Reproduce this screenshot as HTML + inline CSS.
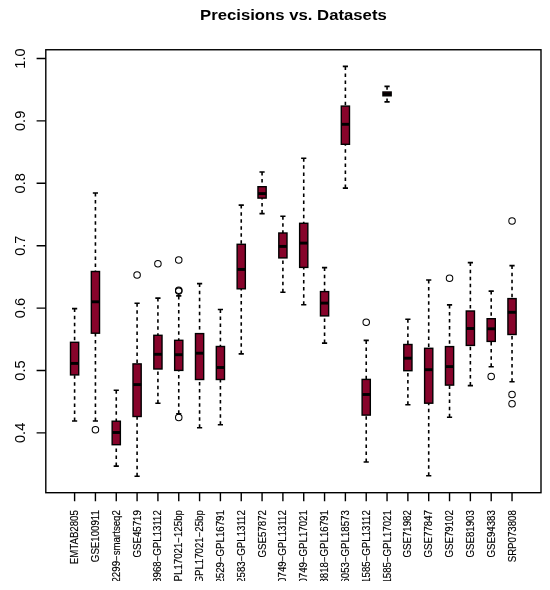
<!DOCTYPE html>
<html><head><meta charset="utf-8"><title>Precisions vs. Datasets</title>
<style>
html,body{margin:0;padding:0;background:#fff;width:550px;height:590px;overflow:hidden}
svg{display:block;font-family:"Liberation Sans",Arial,sans-serif;fill:#000}
.w{stroke:#000;stroke-width:1.6;stroke-dasharray:3.5 3.55;fill:none}
.s{stroke:#000;stroke-width:1.6;fill:none}
.b{fill:#87042B;stroke:#000;stroke-width:1.4}
.m{stroke:#000;stroke-width:2.9;fill:none}
.o{fill:none;stroke:#000;stroke-width:1.05}
.xl{stroke:#000;stroke-width:0.15}
.fr{fill:none;stroke:#000;stroke-width:1.4}
.t{fill:none;stroke:#000;stroke-width:1.4}
</style></head>
<body>
<svg width="550" height="590" viewBox="0 0 550 590">
<defs><clipPath id="cl"><rect x="0" y="0" width="550" height="581"/></clipPath></defs>
<text transform="translate(293.4 19.8) scale(1.1 1)" text-anchor="middle" font-weight="bold" font-size="15.2">Precisions vs. Datasets</text>
<g><path d="M74.6 308.6V342.3M74.6 421V374.9" class="w"/><path d="M72 308.6H77.2M72 421H77.2" class="s"/><rect x="70.5" y="342.3" width="8.2" height="32.6" class="b"/><path d="M70.5 363.4H78.7" class="m"/><path d="M95.43 193V271.5M95.43 421V333.2" class="w"/><path d="M92.83 193H98.03M92.83 421H98.03" class="s"/><rect x="91.33" y="271.5" width="8.2" height="61.7" class="b"/><path d="M91.33 301.8H99.53" class="m"/><circle cx="95.43" cy="429.8" r="3.25" class="o"/><path d="M116.26 390.2V421.2M116.26 466.1V444.7" class="w"/><path d="M113.66 390.2H118.86M113.66 466.1H118.86" class="s"/><rect x="112.16" y="421.2" width="8.2" height="23.5" class="b"/><path d="M112.16 432.5H120.36" class="m"/><path d="M137.09 303.2V363.9M137.09 476.2V416.5" class="w"/><path d="M134.49 303.2H139.69M134.49 476.2H139.69" class="s"/><rect x="132.99" y="363.9" width="8.2" height="52.6" class="b"/><path d="M132.99 384.6H141.19" class="m"/><circle cx="137.09" cy="274.9" r="3.25" class="o"/><path d="M157.92 298.1V335.3M157.92 403.3V369" class="w"/><path d="M155.32 298.1H160.52M155.32 403.3H160.52" class="s"/><rect x="153.82" y="335.3" width="8.2" height="33.7" class="b"/><path d="M153.82 354.3H162.02" class="m"/><circle cx="157.92" cy="263.8" r="3.25" class="o"/><path d="M178.75 295.9V340.3M178.75 413.7V370.4" class="w"/><path d="M176.15 295.9H181.35M176.15 413.7H181.35" class="s"/><rect x="174.65" y="340.3" width="8.2" height="30.1" class="b"/><path d="M174.65 354.7H182.85" class="m"/><circle cx="178.75" cy="260" r="3.25" class="o"/><circle cx="178.75" cy="290.3" r="3.25" class="o"/><circle cx="178.75" cy="291.1" r="3.25" class="o"/><circle cx="178.75" cy="417.5" r="3.25" class="o"/><path d="M199.58 283.6V333.6M199.58 427.8V379.5" class="w"/><path d="M196.98 283.6H202.18M196.98 427.8H202.18" class="s"/><rect x="195.48" y="333.6" width="8.2" height="45.9" class="b"/><path d="M195.48 353.2H203.68" class="m"/><path d="M220.41 309.5V346.5M220.41 424.7V379.5" class="w"/><path d="M217.81 309.5H223.01M217.81 424.7H223.01" class="s"/><rect x="216.31" y="346.5" width="8.2" height="33" class="b"/><path d="M216.31 367.5H224.51" class="m"/><path d="M241.24 205.1V244.3M241.24 353.9V288.8" class="w"/><path d="M238.64 205.1H243.84M238.64 353.9H243.84" class="s"/><rect x="237.14" y="244.3" width="8.2" height="44.5" class="b"/><path d="M237.14 269.4H245.34" class="m"/><path d="M262.07 172V186.7M262.07 213.6V198.1" class="w"/><path d="M259.47 172H264.67M259.47 213.6H264.67" class="s"/><rect x="257.97" y="186.7" width="8.2" height="11.4" class="b"/><path d="M257.97 193.6H266.17" class="m"/><path d="M282.9 216.2V233M282.9 292.3V257.9" class="w"/><path d="M280.3 216.2H285.5M280.3 292.3H285.5" class="s"/><rect x="278.8" y="233" width="8.2" height="24.9" class="b"/><path d="M278.8 246.4H287" class="m"/><path d="M303.73 158.3V223.3M303.73 304.7V267.4" class="w"/><path d="M301.13 158.3H306.33M301.13 304.7H306.33" class="s"/><rect x="299.63" y="223.3" width="8.2" height="44.1" class="b"/><path d="M299.63 243.1H307.83" class="m"/><path d="M324.56 267.6V291.6M324.56 343.1V315.9" class="w"/><path d="M321.96 267.6H327.16M321.96 343.1H327.16" class="s"/><rect x="320.46" y="291.6" width="8.2" height="24.3" class="b"/><path d="M320.46 303.1H328.66" class="m"/><path d="M345.39 66.4V106.1M345.39 188.1V144.3" class="w"/><path d="M342.79 66.4H347.99M342.79 188.1H347.99" class="s"/><rect x="341.29" y="106.1" width="8.2" height="38.2" class="b"/><path d="M341.29 124.3H349.49" class="m"/><path d="M366.22 340.4V379.4M366.22 462V415.1" class="w"/><path d="M363.62 340.4H368.82M363.62 462H368.82" class="s"/><rect x="362.12" y="379.4" width="8.2" height="35.7" class="b"/><path d="M362.12 394.5H370.32" class="m"/><circle cx="366.22" cy="322.3" r="3.25" class="o"/><path d="M387.05 86.35V92M387.05 101.9V95.8" class="w"/><path d="M384.45 86.35H389.65M384.45 101.9H389.65" class="s"/><rect x="382.95" y="92" width="8.2" height="3.8" class="b"/><path d="M382.95 94H391.15" class="m"/><path d="M407.88 319.3V344.5M407.88 404.7V370.7" class="w"/><path d="M405.28 319.3H410.48M405.28 404.7H410.48" class="s"/><rect x="403.78" y="344.5" width="8.2" height="26.2" class="b"/><path d="M403.78 358.2H411.98" class="m"/><path d="M428.71 280V348.3M428.71 475.8V403.2" class="w"/><path d="M426.11 280H431.31M426.11 475.8H431.31" class="s"/><rect x="424.61" y="348.3" width="8.2" height="54.9" class="b"/><path d="M424.61 369.7H432.81" class="m"/><path d="M449.54 304.9V346.6M449.54 417.2V385.1" class="w"/><path d="M446.94 304.9H452.14M446.94 417.2H452.14" class="s"/><rect x="445.44" y="346.6" width="8.2" height="38.5" class="b"/><path d="M445.44 366.6H453.64" class="m"/><circle cx="449.54" cy="278.2" r="3.25" class="o"/><path d="M470.37 262.6V311M470.37 385.6V345.4" class="w"/><path d="M467.77 262.6H472.97M467.77 385.6H472.97" class="s"/><rect x="466.27" y="311" width="8.2" height="34.4" class="b"/><path d="M466.27 328.5H474.47" class="m"/><path d="M491.2 291.1V318.7M491.2 366.7V341.4" class="w"/><path d="M488.6 291.1H493.8M488.6 366.7H493.8" class="s"/><rect x="487.1" y="318.7" width="8.2" height="22.7" class="b"/><path d="M487.1 328.8H495.3" class="m"/><circle cx="491.2" cy="376.5" r="3.25" class="o"/><path d="M512.03 265.6V298.6M512.03 381.7V334.5" class="w"/><path d="M509.43 265.6H514.63M509.43 381.7H514.63" class="s"/><rect x="507.93" y="298.6" width="8.2" height="35.9" class="b"/><path d="M507.93 312.3H516.13" class="m"/><circle cx="512.03" cy="221" r="3.25" class="o"/><circle cx="512.03" cy="394.4" r="3.25" class="o"/><circle cx="512.03" cy="403.8" r="3.25" class="o"/></g>
<rect x="45.8" y="49.75" width="495.2" height="442.95" class="fr"/>
<text transform="translate(25.4 58.5) rotate(-90)" text-anchor="middle" font-size="14.6">1.0</text>
<text transform="translate(25.4 120.9) rotate(-90)" text-anchor="middle" font-size="14.6">0.9</text>
<text transform="translate(25.4 183.3) rotate(-90)" text-anchor="middle" font-size="14.6">0.8</text>
<text transform="translate(25.4 245.7) rotate(-90)" text-anchor="middle" font-size="14.6">0.7</text>
<text transform="translate(25.4 308.1) rotate(-90)" text-anchor="middle" font-size="14.6">0.6</text>
<text transform="translate(25.4 370.5) rotate(-90)" text-anchor="middle" font-size="14.6">0.5</text>
<text transform="translate(25.4 432.9) rotate(-90)" text-anchor="middle" font-size="14.6">0.4</text>
<path d="M36.6 58.5H45.8M36.6 120.9H45.8M36.6 183.3H45.8M36.6 245.7H45.8M36.6 308.1H45.8M36.6 370.5H45.8M36.6 432.9H45.8" class="t"/>
<path d="M74.6 492.7V501.3M95.43 492.7V501.3M116.26 492.7V501.3M137.09 492.7V501.3M157.92 492.7V501.3M178.75 492.7V501.3M199.58 492.7V501.3M220.41 492.7V501.3M241.24 492.7V501.3M262.07 492.7V501.3M282.9 492.7V501.3M303.73 492.7V501.3M324.56 492.7V501.3M345.39 492.7V501.3M366.22 492.7V501.3M387.05 492.7V501.3M407.88 492.7V501.3M428.71 492.7V501.3M449.54 492.7V501.3M470.37 492.7V501.3M491.2 492.7V501.3M512.03 492.7V501.3" class="t"/>
<g clip-path="url(#cl)"><text transform="translate(78.1 510.1) rotate(-90) scale(1.02 1.06)" text-anchor="end" font-size="9.5" class="xl">EMTAB2805</text><text transform="translate(98.93 510.1) rotate(-90) scale(1.02 1.06)" text-anchor="end" font-size="9.5" class="xl">GSE100911</text><text transform="translate(119.76 510.1) rotate(-90) scale(1.02 1.06)" text-anchor="end" font-size="9.5" class="xl">GSE102299−smartseq2</text><text transform="translate(140.59 510.1) rotate(-90) scale(1.02 1.06)" text-anchor="end" font-size="9.5" class="xl">GSE45719</text><text transform="translate(161.42 510.1) rotate(-90) scale(1.02 1.06)" text-anchor="end" font-size="9.5" class="xl">GSE48968−GPL13112</text><text transform="translate(182.25 510.1) rotate(-90) scale(1.02 1.06)" text-anchor="end" font-size="9.5" class="xl">GSE48968−GPL17021−125bp</text><text transform="translate(203.08 510.1) rotate(-90) scale(1.02 1.06)" text-anchor="end" font-size="9.5" class="xl">GSE48968−GPL17021−25bp</text><text transform="translate(223.91 510.1) rotate(-90) scale(1.02 1.06)" text-anchor="end" font-size="9.5" class="xl">GSE52529−GPL16791</text><text transform="translate(244.74 510.1) rotate(-90) scale(1.02 1.06)" text-anchor="end" font-size="9.5" class="xl">GSE52583−GPL13112</text><text transform="translate(265.57 510.1) rotate(-90) scale(1.02 1.06)" text-anchor="end" font-size="9.5" class="xl">GSE57872</text><text transform="translate(286.4 510.1) rotate(-90) scale(1.02 1.06)" text-anchor="end" font-size="9.5" class="xl">GSE60749−GPL13112</text><text transform="translate(307.23 510.1) rotate(-90) scale(1.02 1.06)" text-anchor="end" font-size="9.5" class="xl">GSE60749−GPL17021</text><text transform="translate(328.06 510.1) rotate(-90) scale(1.02 1.06)" text-anchor="end" font-size="9.5" class="xl">GSE63818−GPL16791</text><text transform="translate(348.89 510.1) rotate(-90) scale(1.02 1.06)" text-anchor="end" font-size="9.5" class="xl">GSE66053−GPL18573</text><text transform="translate(369.72 510.1) rotate(-90) scale(1.02 1.06)" text-anchor="end" font-size="9.5" class="xl">GSE71585−GPL13112</text><text transform="translate(390.55 510.1) rotate(-90) scale(1.02 1.06)" text-anchor="end" font-size="9.5" class="xl">GSE71585−GPL17021</text><text transform="translate(411.38 510.1) rotate(-90) scale(1.02 1.06)" text-anchor="end" font-size="9.5" class="xl">GSE71982</text><text transform="translate(432.21 510.1) rotate(-90) scale(1.02 1.06)" text-anchor="end" font-size="9.5" class="xl">GSE77847</text><text transform="translate(453.04 510.1) rotate(-90) scale(1.02 1.06)" text-anchor="end" font-size="9.5" class="xl">GSE79102</text><text transform="translate(473.87 510.1) rotate(-90) scale(1.02 1.06)" text-anchor="end" font-size="9.5" class="xl">GSE81903</text><text transform="translate(494.7 510.1) rotate(-90) scale(1.02 1.06)" text-anchor="end" font-size="9.5" class="xl">GSE94383</text><text transform="translate(515.53 510.1) rotate(-90) scale(1.02 1.06)" text-anchor="end" font-size="9.5" class="xl">SRP073808</text></g>
</svg>
</body></html>
